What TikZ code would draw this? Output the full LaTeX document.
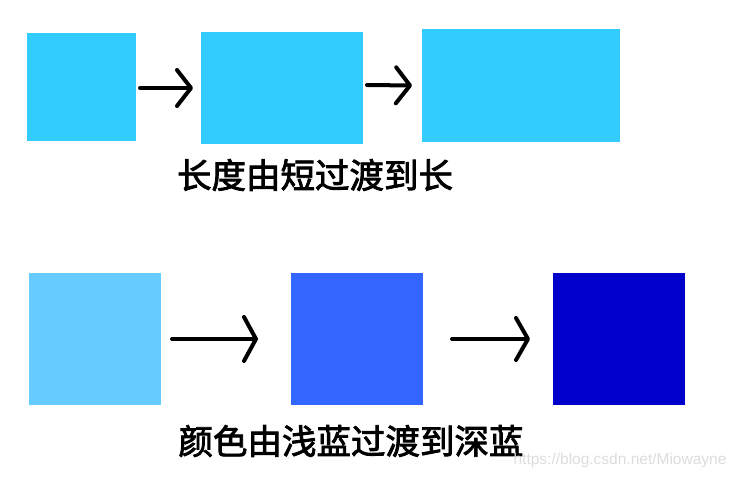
\documentclass[tikz,border=0pt]{standalone}
\usepackage{fontspec}
\setmainfont{Liberation Sans}
\newfontfamily\cjk[FakeBold=2.4]{Noto Sans CJK SC}
\usetikzlibrary{arrows.meta}
\definecolor{topblue}{HTML}{33CCFF}
\definecolor{lightblue}{HTML}{66CCFF}
\definecolor{midblue}{HTML}{3366FF}
\definecolor{darkblue}{HTML}{0000CC}
\definecolor{wmgray}{HTML}{DDDDDD}
\begin{document}
\begin{tikzpicture}[x=1pt,y=-1pt,
  box/.style={inner sep=0pt,outer sep=0pt,draw=none,anchor=north west},
  arr/.style={line width=4pt,line cap=round,line join=round,
    -{Straight Barb[length=14pt,width=36pt,line cap=round,line join=round]}},
  caption/.style={font=\cjk\fontsize{34.5}{38}\selectfont,inner sep=0pt},
  wm/.style={font=\fontsize{15.5}{17}\selectfont,text=wmgray,inner sep=0pt}]
\useasboundingbox[fill=white] (0,0) rectangle (738,478);
% top row
\node[box,fill=topblue,minimum width=109pt,minimum height=108pt] (t1) at (27,33) {};
\node[box,fill=topblue,minimum width=162pt,minimum height=112pt] (t2) at (201,32) {};
\node[box,fill=topblue,minimum width=198pt,minimum height=113pt] (t3) at (422,29) {};
\draw[arr] ([xshift=4pt,yshift=-1pt]t1.east) -- ([xshift=-8pt,yshift=0pt]t2.west);
\draw[arr] ([xshift=4pt,yshift=3pt]t2.east) -- ([xshift=-10pt,yshift=0pt]t3.west);
\node[caption] (c1) at (315,175) {长度由短过渡到长};
% bottom row
\node[box,fill=lightblue,minimum width=132pt,minimum height=132pt] (b1) at (29,273) {};
\node[box,fill=midblue,minimum width=132pt,minimum height=132pt] (b2) at (291,273) {};
\node[box,fill=darkblue,minimum width=132pt,minimum height=132pt] (b3) at (553,273) {};
\draw[arr,-{Straight Barb[length=12pt,width=44pt,line cap=round,line join=round]}] ([xshift=11pt]b1.east) -- ([xshift=-33pt]b2.west);
\draw[arr,-{Straight Barb[length=12pt,width=42pt,line cap=round,line join=round]}] ([xshift=29pt]b2.east) -- ([xshift=-23pt]b3.west);
\node[caption] (c2) at (351,441) {颜色由浅蓝过渡到深蓝};
\node[wm] (w) at (620,460) {https://blog.csdn.net/Miowayne};
\end{tikzpicture}
\end{document}
